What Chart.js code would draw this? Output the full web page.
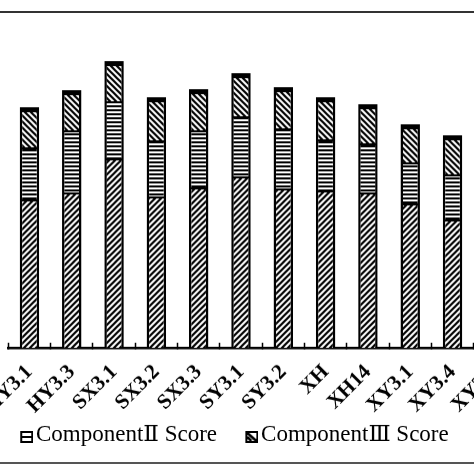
<!DOCTYPE html>
<html><head><meta charset="utf-8">
<script src="https://cdn.jsdelivr.net/npm/chart.js@4.4.1/dist/chart.umd.min.js"></script>
<style>
html,body{margin:0;padding:0;background:#fff;overflow:hidden;width:474px;height:474px;}
#wrap{position:absolute;left:-8px;top:13px;width:524px;height:442.5px;}
.rule{position:absolute;left:0;width:474px;z-index:2;}
#topRule{top:11px;height:2px;background:#333;}
#botRule{top:462px;height:1.5px;background:#555;}
</style></head><body>
<div id="wrap"><canvas id="c"></canvas></div>
<div class="rule" id="topRule"></div><div class="rule" id="botRule"></div>
<script>
// ---- data ----
const categories = ['HY3.1','HY3.3','SX3.1','SX3.2','SX3.3','SY3.1','SY3.2','XH','XH14','XY3.1','XY3.4','XY3.5'];
const componentI   = [0.74, 0.775, 0.945, 0.755, 0.80, 0.855, 0.795, 0.785, 0.775, 0.72, 0.64, null];
const componentII  = [0.26, 0.31, 0.285, 0.28, 0.285, 0.30, 0.30, 0.255, 0.245, 0.205, 0.225, null];
const componentIII = [0.20, 0.20, 0.20, 0.215, 0.205, 0.215, 0.205, 0.21, 0.195, 0.19, 0.195, null];
const seriesNames  = ['ComponentⅠ Score','ComponentⅡ Score','ComponentⅢ Score'];

// ---- hatch patterns ----
function tile(w,h,draw){const c=document.createElement('canvas');c.width=w;c.height=h;const g=c.getContext('2d');g.fillStyle='#fff';g.fillRect(0,0,w,h);g.strokeStyle='#000';g.fillStyle='#000';draw(g);return c;}
const ctx0 = document.createElement('canvas').getContext('2d');
const patFwd = ctx0.createPattern(tile(6,6,g=>{g.lineWidth=2.2;g.beginPath();g.moveTo(-1,1);g.lineTo(1,-1);g.moveTo(0,6);g.lineTo(6,0);g.moveTo(5,7);g.lineTo(7,5);g.stroke();}),'repeat');
const patHor = ctx0.createPattern(tile(4,4,g=>{g.fillRect(0,0,4,2);}),'repeat');
const patBack = ctx0.createPattern(tile(6,6,g=>{g.lineWidth=2.2;g.beginPath();g.moveTo(-1,5);g.lineTo(1,7);g.moveTo(0,0);g.lineTo(6,6);g.moveTo(5,-1);g.lineTo(7,1);g.stroke();}),'repeat');

// legend icons: 13x12 box drawn at the right end of a wider transparent image
function icon(kind){
  const c=document.createElement('canvas');c.width=46;c.height=16;const g=c.getContext('2d');
  const x0=33,y0=4;
  g.fillStyle='#000';g.fillRect(x0,y0,13,12);
  g.fillStyle='#fff';g.fillRect(x0+2,y0+2,9,8);
  g.fillStyle='#000';g.strokeStyle='#000';
  if(kind==='h'){g.fillRect(x0+2,y0+5,9,2);}
  else if(kind==='b'){g.lineWidth=2.5;g.beginPath();g.moveTo(x0+2,y0+2);g.lineTo(x0+11,y0+10);g.stroke();g.beginPath();g.moveTo(x0+2,y0+6);g.lineTo(x0+6,y0+10);g.stroke();}
  else {g.lineWidth=2.5;g.beginPath();g.moveTo(x0+2,y0+10);g.lineTo(x0+11,y0+2);g.stroke();}
  return c;
}
const icons=[icon('f'),icon('h'),icon('b')];

const serif="'Liberation Serif','Times New Roman','DejaVu Serif',serif";

new Chart(document.getElementById('c'),{
  type:'bar',
  data:{
    labels:categories,
    datasets:[
      {label:seriesNames[0],data:componentI,backgroundColor:patFwd,borderColor:'#000',borderWidth:{left:2.5,right:2.5,top:2,bottom:0}},
      {label:seriesNames[1],data:componentII,backgroundColor:patHor,borderColor:'#000',borderWidth:{left:2.5,right:2.5,top:2,bottom:0}},
      {label:seriesNames[2],data:componentIII,backgroundColor:patBack,borderColor:'#000',borderWidth:{left:2.5,right:2.5,top:5,bottom:0}}
    ]
  },
  options:{
    responsive:true,maintainAspectRatio:false,animation:false,
    datasets:{bar:{categoryPercentage:1.0,barPercentage:0.46}},
    layout:{padding:{top:14,left:0,right:0,bottom:0}},
    scales:{
      x:{stacked:true,z:1,offset:true,
        grid:{display:true,drawOnChartArea:false,drawTicks:true,tickLength:-5,tickWidth:1.5,tickColor:'#000',offset:true},
        border:{display:true,color:'#000',width:2.5},
        ticks:{autoSkip:false,maxRotation:45,minRotation:45,padding:17,color:'#000',font:{family:serif,size:21,weight:'bold'}},
        afterFit(s){s.height=71.5;s.paddingLeft=0;s.paddingRight=0;}
      },
      y:{stacked:true,min:0,max:1.6,display:true,grid:{display:false},border:{display:false},ticks:{display:false},
        afterFit(s){s.width=16.3;}
      }
    },
    plugins:{
      tooltip:{enabled:false},
      legend:{position:'bottom',align:'start',
        labels:{usePointStyle:true,pointStyleWidth:28.5,boxWidth:28.5,padding:4,color:'#000',font:{family:serif,size:23},
          generateLabels(chart){
            return chart.data.datasets.map((ds,i)=>({text:ds.label,datasetIndex:i,pointStyle:icons[i],fillStyle:'#000',strokeStyle:'#000',lineWidth:0,hidden:false,fontColor:'#000'})).filter(it=>it.datasetIndex>0);
          }
        }
      }
    }
  }
});
</script>
</body></html>
